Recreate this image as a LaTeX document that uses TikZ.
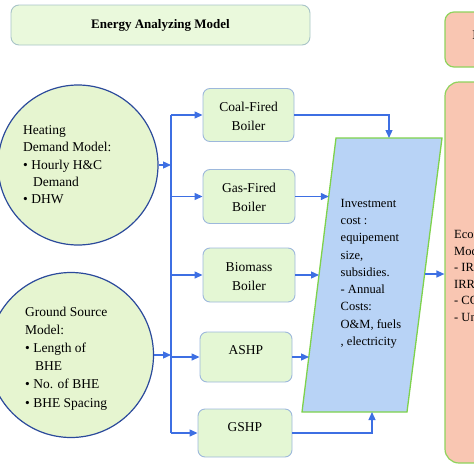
\documentclass[tikz,border=0pt]{standalone}
\usepackage{fontspec}
\setmainfont{Liberation Serif}
\usetikzlibrary{arrows.meta,calc}
\definecolor{titlefill}{HTML}{EAF9DC}
\definecolor{titleborder}{HTML}{A8C4C8}
\definecolor{boxfill}{HTML}{E4F7D4}
\definecolor{boxborder}{HTML}{9DB8DC}
\definecolor{circfill}{HTML}{E6F5D0}
\definecolor{circborder}{HTML}{2B4A9B}
\definecolor{arrowblue}{HTML}{3D6FE3}
\definecolor{parafill}{HTML}{B8D3F6}
\definecolor{paraborder}{HTML}{7ED24C}
\definecolor{econfill}{HTML}{F9C6B2}
\definecolor{econborder}{HTML}{8FD35C}
\begin{document}
\begin{tikzpicture}[x=1pt,y=-1pt,
  arr/.style={draw=arrowblue, line width=1.3pt, -{Triangle[length=8pt,width=7pt]}},
  ln/.style={draw=arrowblue, line width=1.3pt},
  stepbox/.style={draw=boxborder, fill=boxfill, rounded corners=7pt, line width=0.9pt,
    minimum width=91pt, minimum height=53pt, inner sep=0pt},
  boxtxt/.style={font=\fontsize{13.5}{19}\selectfont, align=center, inner sep=0pt},
  circ/.style={circle, draw=circborder, fill=circfill, line width=1.2pt, inner sep=0pt},
  circtxt/.style={anchor=north west, align=left, inner sep=0pt},
  econbox/.style={draw=econborder, fill=econfill, rounded corners=14pt, line width=1.2pt, inner sep=0pt},
]
\useasboundingbox (0,0) rectangle (474,474);
\clip (0,0) rectangle (474,474);

% title
\node[draw=titleborder, fill=titlefill, rounded corners=8pt, line width=0.9pt,
      minimum width=299pt, minimum height=40pt, inner sep=0pt,
      font=\fontsize{13}{15}\selectfont\bfseries] (title) at (160.5,25) {Energy Analyzing Model};

% right boxes
\node[econbox, rounded corners=9pt, minimum width=130pt, minimum height=55pt] (ectitle) at (510,39.5) {};
\node[anchor=west, inner sep=0pt, font=\fontsize{13}{15}\selectfont\bfseries] (ectitletxt) at (472.5,36) {Economic Analyzing Model};
\node[econbox, minimum width=130pt, minimum height=381pt] (econ) at (510,272.5) {};
\node[anchor=north west, align=left, inner sep=0pt, font=\fontsize{12.5}{16.6}\selectfont] (econtxt) at (454,230)
 {Economic\\Model:\\- IRR, NPV,\\IRR\\- CO\textsubscript{2}\\- Uncertainty};

% circles
\node[circ, minimum size=160pt] (hdm) at (78,165) {};
\node[circtxt, font=\fontsize{13.5}{17.3}\selectfont] (hdmtxt) at (23,125.5)
 {Heating\\Demand Model:\\\textbullet\ Hourly H\&C\\\hspace{10pt}Demand\\\textbullet\ DHW};
\node[circ, minimum size=165pt] (gsm) at (71,355) {};
\node[circtxt, font=\fontsize{13.5}{18.2}\selectfont] (gsmtxt) at (25,306.5)
 {Ground Source\\Model:\\\textbullet\ Length of\\\hspace{10pt}BHE\\\textbullet\ No. of BHE\\\textbullet\ BHE Spacing};

% technology boxes
\node[stepbox] (coal) at (248.5,115) {};
\node[boxtxt] (coaltxt) at (248.5,116.5) {Coal-Fired\\Boiler};
\node[stepbox, minimum width=92pt, minimum height=54pt] (gas) at (249,196.5) {};
\node[boxtxt] (gastxt) at (249,197.5) {Gas-Fired\\Boiler};
\node[stepbox, minimum width=92pt, minimum height=54pt] (bio) at (249,275) {};
\node[boxtxt] (biotxt) at (249,277) {Biomass\\Boiler};
\node[stepbox, minimum width=92pt, minimum height=50pt] (ashp) at (246,357) {};
\node[boxtxt] (ashptxt) at (246,350) {ASHP};
\node[stepbox, minimum width=94pt, minimum height=48pt] (gshp) at (245,433) {};
\node[boxtxt] (gshptxt) at (245,427) {GSHP};

% parallelogram
\coordinate (pTL) at (336,138);
\coordinate (pTR) at (442,138);
\coordinate (pBR) at (407,412);
\coordinate (pBL) at (302,412);
\path[draw=paraborder, fill=parafill, line width=1.3pt] (pTL) -- (pTR) -- (pBR) -- (pBL) -- cycle;
\node[anchor=north west, align=left, inner sep=0pt, font=\fontsize{12.5}{17.25}\selectfont] (invest) at (340.5,199)
 {Investment\\cost :\\equipement\\size,\\subsidies.\\- Annual\\Costs:\\O\&M, fuels\\, electricity};

% connector points
\coordinate (bustop) at (171,115);
\coordinate (busbot) at (171,433);
\coordinate (pin) at (389,138);
\coordinate (pgas) at (328.8,196.5);
\coordinate (pbio) at (319,275);
\coordinate (pash) at (309,357);
\coordinate (pbot) at (372,412);
\coordinate (pout) at (424.6,274);

% connectors
\draw[arr] (hdm.east) -- (hdm.east -| bustop);
\draw[arr] (gsm.east) -- (gsm.east -| bustop);
\draw[ln] (bustop) -- (busbot);
\draw[arr] (bustop) -- (coal.west);
\draw[arr] (gas.west -| bustop) -- (gas.west);
\draw[arr] (bio.west -| bustop) -- (bio.west);
\draw[arr] (ashp.west -| bustop) -- (ashp.west);
\draw[arr] (busbot) -- (gshp.west);

\draw[arr] (coal.east) -- (coal.east -| pin) -- (pin);
\draw[arr] (gas.east) -- (pgas);
\draw[arr] (bio.east) -- (pbio);
\draw[arr] (ashp.east) -- (pash);
\draw[arr] (gshp.east) -- (gshp.east -| pbot) -- (pbot);
\draw[arr] (pout) -- (pout -| econ.west);
\end{tikzpicture}
\end{document}
